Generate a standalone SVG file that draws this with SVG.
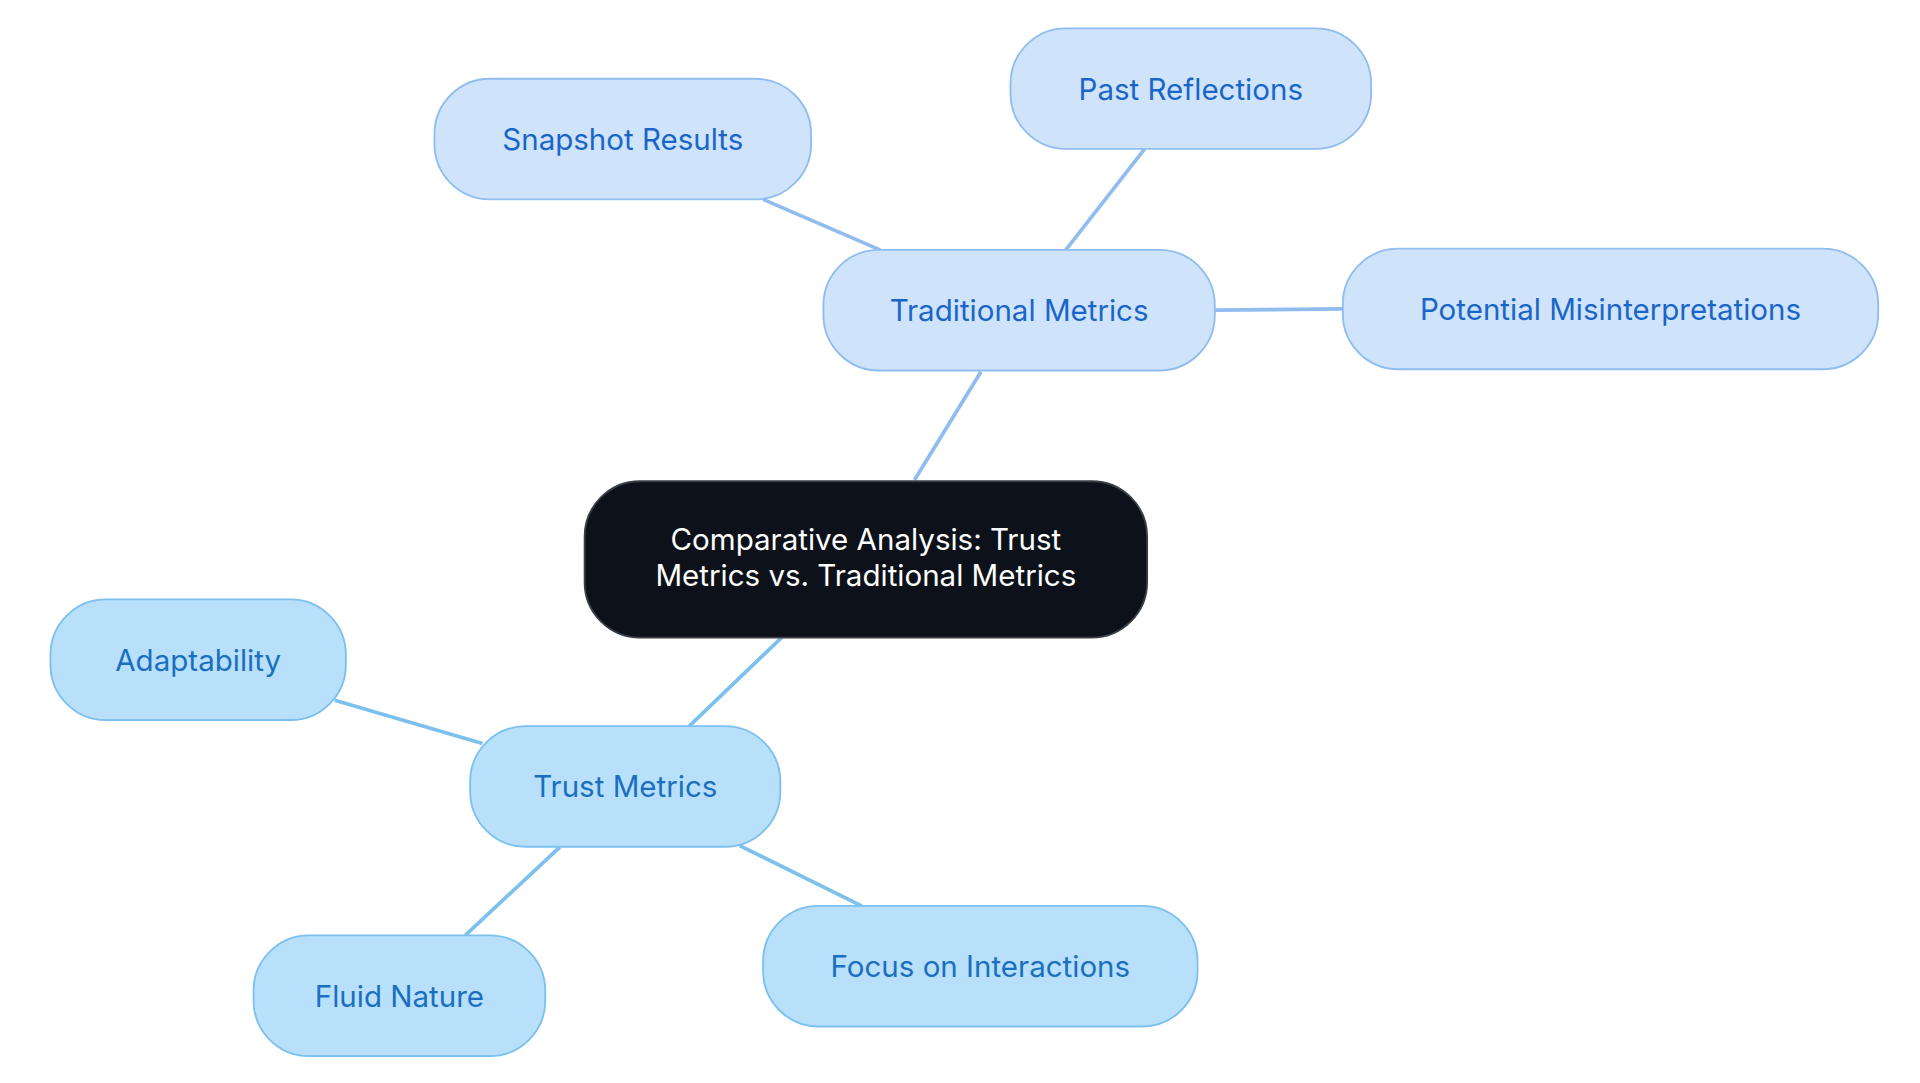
<svg xmlns="http://www.w3.org/2000/svg" width="1920" height="1083" viewBox="0 0 1920 1083">
<style>
text{font-family:Inter,"Noto Sans",sans-serif;font-size:24px;text-anchor:middle;dominant-baseline:central}
.t rect{fill:#cfe3fb;stroke:#90bdf0;stroke-width:1.5}
.t text{fill:#1a66c8}
.m rect{fill:#b8e0fb;stroke:#7cc0ee;stroke-width:1.5}
.m text{fill:#1a6fbf}
.c1{stroke:#90bdf0;stroke-width:3;fill:none}
.c2{stroke:#7cc0ee;stroke-width:3;fill:none}
</style>
<rect width="1920" height="1083" fill="#fff"/>
<g transform="scale(1.2308)">
<g id="connectors">
<line class="c1" x1="743" y1="390" x2="797" y2="302"/>
<line class="c1" x1="715" y1="203" x2="620" y2="162"/>
<line class="c1" x1="866" y1="203" x2="930" y2="121"/>
<line class="c1" x1="987" y1="252" x2="1091" y2="251"/>
<line class="c2" x1="635" y1="518" x2="560" y2="590"/>
<line class="c2" x1="392" y1="604" x2="272" y2="569"/>
<line class="c2" x1="455" y1="688" x2="378" y2="760"/>
<line class="c2" x1="601" y1="687" x2="700" y2="736"/>
</g>
<g id="center"><rect x="475" y="391" width="457" height="127" rx="45" fill="#0d121a" stroke="#3a3f46" stroke-width="1.5"/>
<text x="703.5" y="438" fill="#fff">Comparative Analysis: Trust</text><text x="703.5" y="467" fill="#fff">Metrics vs. Traditional Metrics</text></g>
<g id="traditional" class="t"><rect x="669" y="203" width="318" height="98" rx="45"/><text x="828" y="252">Traditional Metrics</text></g>
<g id="snapshot" class="t"><rect x="353" y="64" width="306" height="98" rx="45"/><text x="506" y="113">Snapshot Results</text></g>
<g id="past" class="t"><rect x="821" y="23" width="293" height="98" rx="45"/><text x="967.5" y="72">Past Reflections</text></g>
<g id="potential" class="t"><rect x="1091" y="202" width="435" height="98" rx="45"/><text x="1308.5" y="251">Potential Misinterpretations</text></g>
<g id="trust" class="m"><rect x="382" y="590" width="252" height="98" rx="45"/><text x="508" y="639">Trust Metrics</text></g>
<g id="adapt" class="m"><rect x="41" y="487" width="240" height="98" rx="45"/><text x="161" y="536">Adaptability</text></g>
<g id="fluid" class="m"><rect x="206" y="760" width="237" height="98" rx="45"/><text x="324.5" y="809">Fluid Nature</text></g>
<g id="focus" class="m"><rect x="620" y="736" width="353" height="98" rx="45"/><text x="796.5" y="785">Focus on Interactions</text></g>
</g>
</svg>
